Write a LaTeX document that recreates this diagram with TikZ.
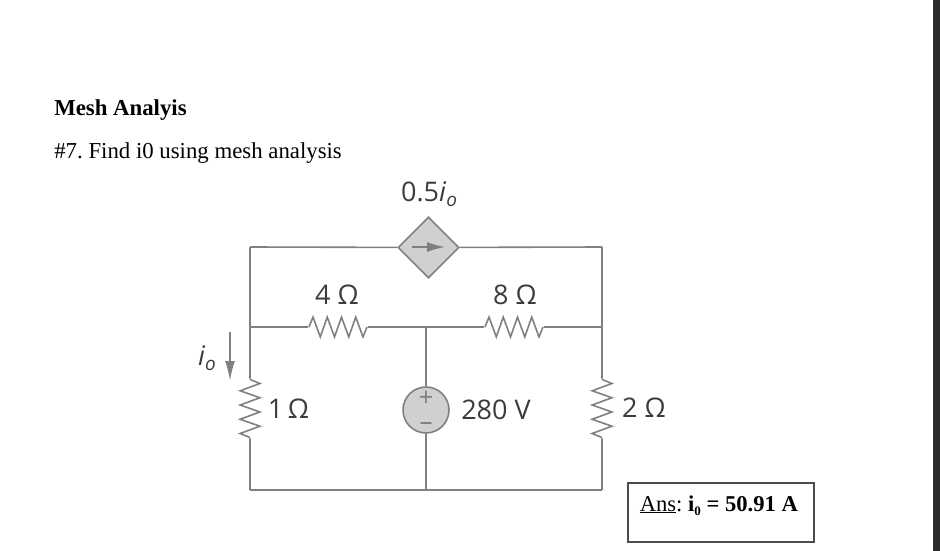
\documentclass[tikz,border=0pt]{standalone}
\usepackage{fontspec}
\setmainfont{Liberation Serif}
\setsansfont{Open Sans}
\frenchspacing
\usetikzlibrary{circuits.ee.IEC,shapes.geometric,arrows.meta}
\definecolor{wire}{HTML}{808080}
\definecolor{srcfill}{HTML}{D0D0D0}
\definecolor{lbl}{HTML}{3C3C3C}
\tikzset{circuit declare symbol = zigzag resistor}
\tikzset{zigzag resistor IEC graphic/.style={
    circuit symbol size=width 8.3 height 8.3,
    shape=generic circle IEC,
    /pgf/generic circle IEC/before background={
    \pgfsetstrokecolor{wire}
    \pgfpathmoveto{\pgfpoint{-1pt}{0pt}}
    \pgfpathlineto{\pgfpoint{-0.86pt}{0.34pt}}
    \pgfpathlineto{\pgfpoint{-0.61pt}{-0.34pt}}
    \pgfpathlineto{\pgfpoint{-0.37pt}{0.34pt}}
    \pgfpathlineto{\pgfpoint{-0.12pt}{-0.34pt}}
    \pgfpathlineto{\pgfpoint{0.12pt}{0.34pt}}
    \pgfpathlineto{\pgfpoint{0.37pt}{-0.34pt}}
    \pgfpathlineto{\pgfpoint{0.61pt}{0.34pt}}
    \pgfpathlineto{\pgfpoint{0.86pt}{-0.34pt}}
    \pgfpathlineto{\pgfpoint{1pt}{0pt}}
    \pgfusepath{stroke}
    },
    transform shape
  }
}
\tikzset{circuit ee IEC/.append style=
  {circuit symbol unit=7pt,
   set zigzag resistor graphic = zigzag resistor IEC graphic}
}
\tikzset{vlabel/.style={font=\sffamily\fontsize{27}{27}\selectfont, text=lbl, inner sep=0pt}}
\tikzset{polarity/.style={font=\sffamily\fontsize{26}{24}\selectfont, text=wire, inner sep=0pt, align=center}}
\tikzset{doc/.style={font=\fontsize{22.8}{23}\selectfont, text=black, inner sep=0pt, anchor=base west}}

\begin{document}
\begin{tikzpicture}[circuit ee IEC, x=1pt, y=-1pt, line width=1.6pt, draw=wire]
    \useasboundingbox (0,0) rectangle (940,551);
    \fill[fill=black!83] (933,0) rectangle (940,551);
    % text
    \node[doc, font=\bfseries\fontsize{22.8}{23}\selectfont] (title) at (53.5,115) {Mesh Analyis};
    \node[doc] (task) at (53.5,158) {\#7. Find i0 using mesh analysis};
    % corners
    \coordinate (tl) at (250,247);
    \coordinate (tr) at (602,247);
    \coordinate (ml) at (250,327);
    \coordinate (mc) at (426,327);
    \coordinate (mr) at (602,327);
    \coordinate (bl) at (250,490);
    \coordinate (bc) at (426,490);
    \coordinate (br) at (602,490);
    \coordinate (io1) at (230,332);
    \coordinate (io2) at (230,381);
    \coordinate (ar1) at (412,247);
    \coordinate (ar2) at (445,247);
    % sources
    \node[diamond, aspect=1, draw=wire, fill=srcfill, minimum size=61pt, inner sep=0pt] (dep) at (428.5,247.5) {};
    \node[circle, draw=wire, fill=srcfill, minimum size=46pt, inner sep=0pt] (vs) at (426,410) {};
    \draw (tl) -- (dep);
    \draw (dep) -- (tr);
    \draw (tl) -- (ml);
    \draw (tr) -- (mr);
    \draw (ml) to [zigzag resistor] (mc);
    \draw (mc) to [zigzag resistor] (mr);
    \draw (ml) to [zigzag resistor] (bl);
    \draw (mr) to [zigzag resistor] (br);
    \draw (mc) -- (vs);
    \draw (vs) -- (bc);
    \draw (bl) -- (br);
    \draw[-{Latex[length=18pt,width=10pt]}] (ar1) -- (ar2);
    \draw[-{Latex[length=20pt,width=10pt]}, line width=2pt] (io1) -- (io2);
    % polarity of the source
    \node[polarity] (pol) at (426,411) {+\\–};
    % values
    \node[vlabel] (dephead) at (429,194) {0.5\textit{i}\raisebox{-5pt}{\fontsize{19}{19}\selectfont\textit{o}}};
    \node[vlabel] (ra) at (337,295) {4 Ω};
    \node[vlabel] (rb) at (515,295) {8 Ω};
    \node[vlabel] (rc) at (288.5,409) {1\,Ω};
    \node[vlabel] (rd) at (644,408) {2 Ω};
    \node[vlabel] (vsv) at (496,410) {280 V};
    \node[vlabel] (iolbl) at (207,358) {\textit{i}\raisebox{-5pt}{\fontsize{19}{19}\selectfont\textit{o}}};
    % answer
    \node[draw=black!70, line width=1.1pt, minimum width=186pt, minimum height=59pt, inner sep=0pt] (ansbox) at (721,512.5) {};
    \node[doc, font=\fontsize{22.6}{23}\selectfont] (ans) at (639,511) {\underline{Ans}: \textbf{i\raisebox{-4pt}{\fontsize{13}{13}\selectfont 0} = 50.91 A}};
\end{tikzpicture}
\end{document}
